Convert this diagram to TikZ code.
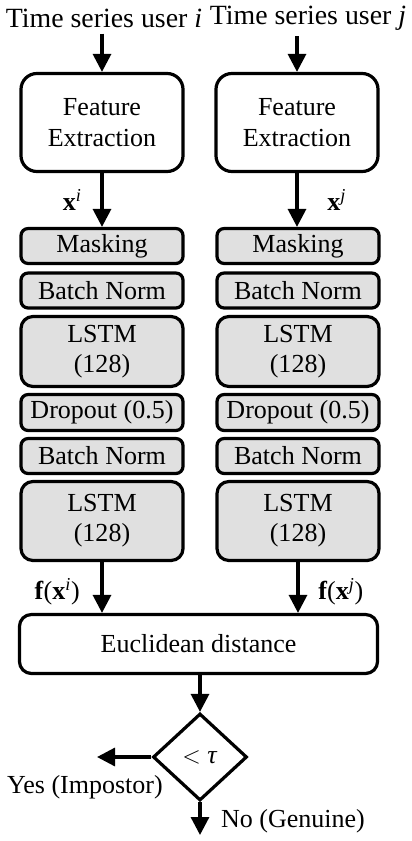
\documentclass[tikz,border=0pt]{standalone}
\usepackage{fontspec}
\setmainfont{Liberation Serif}
\usetikzlibrary{shapes.geometric,arrows.meta}
\definecolor{layergray}{RGB}{224,224,224}

\begin{document}
\begin{tikzpicture}[x=0.025cm,y=-0.025cm,
    font=\fontsize{18.5}{21.5}\selectfont,
    line width=0.08cm,
    >={Triangle[length=0.45cm,width=0.45cm]},
    feat/.style={draw,rounded corners=0.4cm,minimum width=4.05cm,minimum height=2.45cm,align=center},
    layer/.style={draw,fill=layergray,rounded corners=0.18cm,minimum width=4.05cm,minimum height=0.875cm,inner sep=0pt,align=center},
    lstm/.style={layer,rounded corners=0.3cm}]
    \useasboundingbox (0,0) rectangle (412,841);

    \node[font=\fontsize{19.8}{24}\selectfont] (ti) at (104,18) {Time series user \textit{i}};
    \node[font=\fontsize{19.8}{24}\selectfont] (tj) at (308,18) {Time series user \textit{j}};

    \node[feat] (fei) at (102,122.5) {Feature\\Extraction};
    \node[feat] (fej) at (297,122.5) {Feature\\Extraction};

    \node[layer] (mi) at (102,246) {Masking};
    \node[layer] (bi) at (102,290.5) {Batch Norm};
    \node[lstm,minimum height=1.75cm] (li) at (102,351.5) {LSTM\\(128)};
    \node[layer,minimum height=0.9cm] (di) at (102,412.5) {Dropout (0.5)};
    \node[layer] (ci) at (102,456) {Batch Norm};
    \node[lstm,minimum height=1.975cm] (ki) at (102,521) {LSTM\\(128)};

    \node[layer] (mj) at (298,246) {Masking};
    \node[layer] (bj) at (298,290.5) {Batch Norm};
    \node[lstm,minimum height=1.75cm] (lj) at (298,351.5) {LSTM\\(128)};
    \node[layer,minimum height=0.9cm] (dj) at (298,412.5) {Dropout (0.5)};
    \node[layer] (cj) at (298,456) {Batch Norm};
    \node[lstm,minimum height=1.975cm] (kj) at (298,521) {LSTM\\(128)};

    \node[draw,rounded corners=0.3cm,minimum width=8.95cm,minimum height=1.475cm] (ed) at (198.5,644) {Euclidean distance};
    \node[draw,diamond,inner sep=0pt,minimum width=2.35cm,minimum height=2.175cm] (dec) at (200,757) {$<$ \textit{τ}};

    \coordinate (yes) at (97,757);
    \coordinate (no) at (200,835);
    \node (yl) at (85,787) {Yes (Impostor)};
    \node (nl) at (293,821) {No (Genuine)};

    \draw[->] (fei.north |- ti.south) -- (fei.north);
    \draw[->] (fej.north |- tj.south) -- (fej.north);
    \draw[->] (fei.south) -- (fei.south |- mi.north) node[midway,left=0.35cm] {\textbf{x}\textsuperscript{\textit{i}}};
    \draw[->] (fej.south) -- (fej.south |- mj.north) node[midway,right=0.6cm] {\textbf{x}\textsuperscript{\textit{j}}};
    \draw[->] (ki.south) -- (ki.south |- ed.north) node[midway,left=0.4cm,yshift=-0.1cm] {\textbf{f}(\textbf{x}\textsuperscript{\textit{i}})};
    \draw[->] (kj.south) -- (kj.south |- ed.north) node[midway,right=0.35cm,yshift=-0.1cm] {\textbf{f}(\textbf{x}\textsuperscript{\textit{j}})};
    \draw[->] (dec.north |- ed.south) -- (dec.north);
    \draw[->] (dec.west) -- (yes);
    \draw[->] (dec.south) -- (no);
\end{tikzpicture}
\end{document}
